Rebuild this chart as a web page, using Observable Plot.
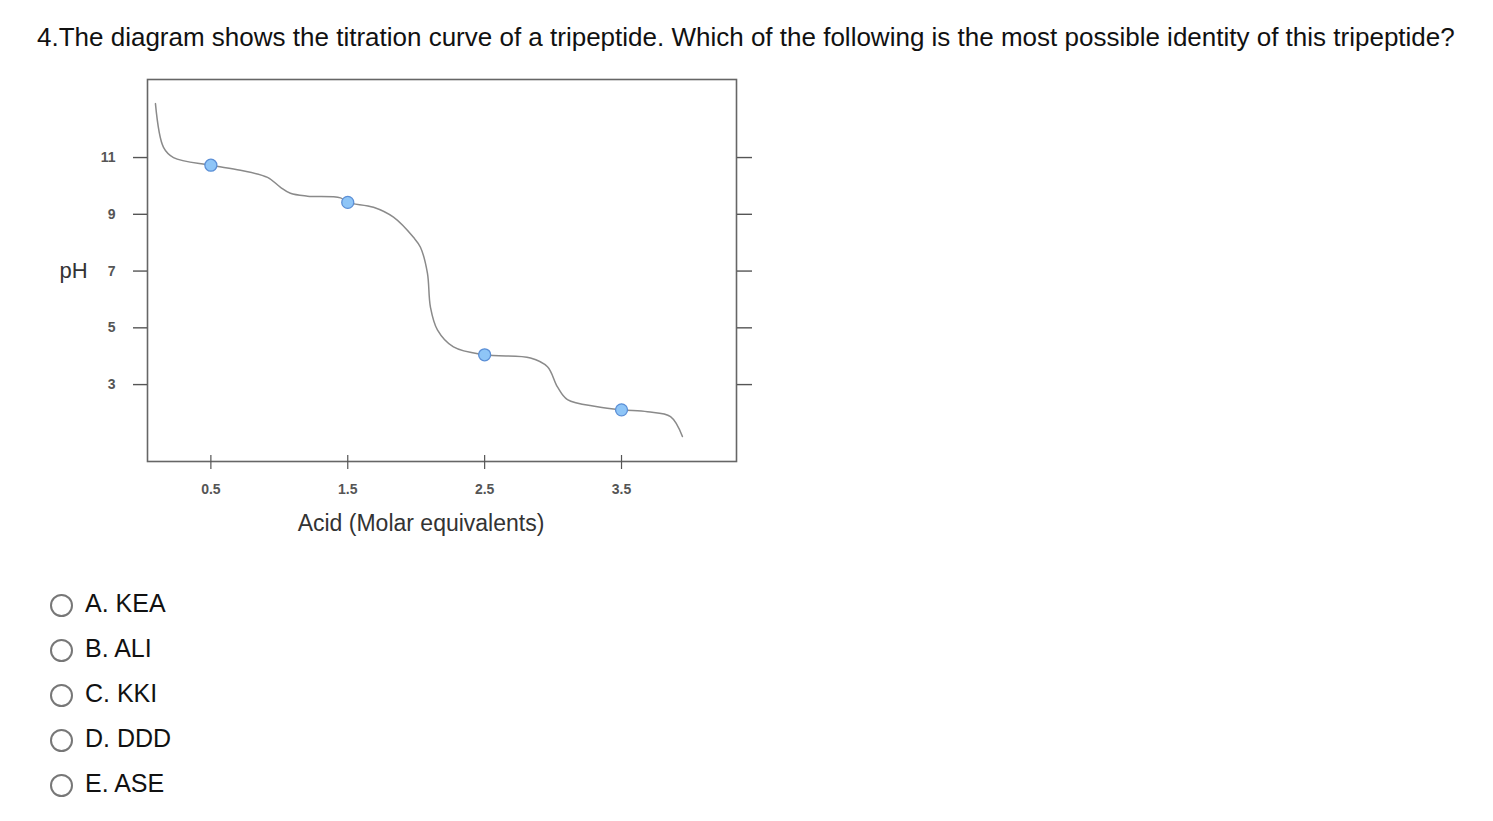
<!DOCTYPE html>
<html>
<head>
<meta charset="utf-8">
<script src="https://cdn.jsdelivr.net/npm/d3@7"></script>
<script src="https://cdn.jsdelivr.net/npm/@observablehq/plot@0.6"></script>
<style>
  body { margin: 0; background: #fff; font-family: Arial, "Liberation Sans", sans-serif; width: 1493px; height: 821px; position: relative; overflow: hidden; }
  #q { position: absolute; left: 37px; top: 25px; font-size: 26px; line-height: 24px; color: #111; white-space: nowrap; }
  #chart { position: absolute; left: 0; top: 60px; }
  .opt { position: absolute; left: 85px; font-size: 25px; line-height: 22px; color: #111; white-space: nowrap; }
  .radio { position: absolute; left: -35px; top: 1.5px; width: 19px; height: 19px; border: 2px solid #777; border-radius: 50%; }
</style>
</head>
<body>
<div id="q"></div>
<div id="chart"></div>
<div id="opts"></div>
<script>
// ---- data ----
const questionText = "4.The diagram shows the titration curve of a tripeptide. Which of the following is the most possible identity of this tripeptide?";
const options = ["A. KEA", "B. ALI", "C. KKI", "D. DDD", "E. ASE"];
const xLabel = "Acid (Molar equivalents)";
const yLabel = "pH";
const yTicks = [3, 5, 7, 9, 11];
const xTicks = [0.5, 1.5, 2.5, 3.5];
const curveAcid = [0.095, 0.154, 0.227, 0.5, 0.716, 0.914, 1.009, 1.081, 1.206, 1.447, 1.5, 1.688, 1.834, 1.98, 2.031, 2.082, 2.104, 2.155, 2.272, 2.5, 2.835, 2.959, 3.032, 3.105, 3.324, 3.5, 3.69, 3.858, 3.945];
const curvePH   = [12.9, 11.36, 11.0, 10.73, 10.55, 10.30, 9.95, 9.74, 9.64, 9.58, 9.42, 9.25, 8.90, 8.19, 7.84, 6.93, 5.73, 4.93, 4.33, 4.05, 3.94, 3.63, 2.92, 2.47, 2.22, 2.11, 2.04, 1.87, 1.17];
const pointAcid = [0.5, 1.5, 2.5, 3.5];
const pointPH   = [10.73, 9.42, 4.05, 2.11];

// ---- text ----
document.getElementById("q").textContent = questionText;
const optsEl = document.getElementById("opts");
options.forEach((t, i) => {
  const d = document.createElement("div");
  d.className = "opt";
  d.style.top = (592 + i * 45) + "px";
  const r = document.createElement("span");
  r.className = "radio";
  d.appendChild(r);
  d.appendChild(document.createTextNode(t));
  optsEl.appendChild(d);
});

// ---- chart ----
const curve = curveAcid.map((x, i) => ({x, y: curvePH[i]}));
const points = pointAcid.map((x, i) => ({x, y: pointPH[i]}));

const chart = Plot.plot({
  width: 800,
  height: 490,
  marginLeft: 147,
  marginRight: 64,
  marginTop: 19,
  marginBottom: 89,
  style: {fontFamily: "Arial, 'Liberation Sans', sans-serif", fontSize: "14px", color: "#555", background: "transparent"},
  x: {domain: [0.037, 4.34]},
  y: {domain: [0.29, 13.75]},
  marks: [
    Plot.frame({stroke: "#666", strokeWidth: 1.6}),
    Plot.axisY({ticks: yTicks, anchor: "left", tickSize: 14, tickPadding: 18, label: null, fontSize: 14, fontWeight: "bold", strokeWidth: 1.4}),
    Plot.axisY({ticks: yTicks, anchor: "right", tickSize: 15, tickFormat: () => "", label: null, strokeWidth: 1.4}),
    Plot.axisX({ticks: xTicks, anchor: "bottom", tickSize: 14, dy: -6, tickPadding: 15, label: null, fontSize: 14, fontWeight: "bold", strokeWidth: 1.2}),
    Plot.text([yLabel], {text: d => d, frameAnchor: "left", dx: -74, fontSize: 22, fill: "#333", textAnchor: "middle"}),
    Plot.text([xLabel], {text: d => d, frameAnchor: "bottom", dy: 69, dx: -21, fontSize: 23, fill: "#333", textAnchor: "middle"}),
    Plot.line(curve, {x: "x", y: "y", curve: "catmull-rom", stroke: "#8a8a8a", strokeWidth: 1.5}),
    Plot.dot(points, {x: "x", y: "y", r: 6, fill: "#8ec5f7", stroke: "#5b8fd6", strokeWidth: 1.3})
  ]
});
document.getElementById("chart").appendChild(chart);
</script>
</body>
</html>
